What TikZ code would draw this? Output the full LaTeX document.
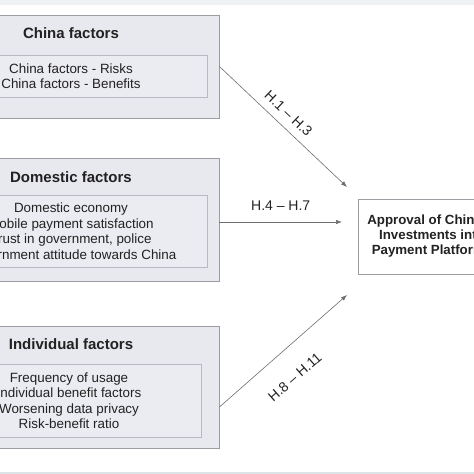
\documentclass[tikz,border=0pt]{standalone}
\usepackage{fontspec}
\setmainfont{Liberation Sans}
\usepackage{xcolor}
\usetikzlibrary{arrows.meta,positioning,calc}
\definecolor{boxgray}{HTML}{9C9CA2}
\definecolor{boxfill}{HTML}{E8E8EF}
\definecolor{itemline}{HTML}{B9B9C2}
\definecolor{itemfill}{HTML}{EBEBF2}
\definecolor{inkgray}{HTML}{222222}
\definecolor{linkgray}{HTML}{6E6E6E}
\definecolor{bandtop}{HTML}{EEF2F5}
\definecolor{bandbottom}{HTML}{DDE4E7}
\tikzset{
  groupbox/.style={
    draw=boxgray,
    fill=boxfill,
    line width=0.9pt,
    minimum width=296pt,
    inner sep=0pt
  },
  itembox/.style={
    draw=itemline,
    fill=itemfill,
    line width=0.6pt,
    align=center,
    minimum width=272pt,
    inner sep=0pt,
    text=inkgray,
    font=\fontsize{13.4pt}{15.5pt}\selectfont
  },
  grouptitle/.style={
    font=\bfseries\fontsize{15pt}{17pt}\selectfont,
    text=inkgray,
    inner sep=0pt
  },
  targetbox/.style={
    draw=boxgray,
    fill=white,
    line width=0.9pt,
    align=center,
    minimum width=148pt,
    minimum height=75pt,
    inner sep=0pt,
    text=inkgray,
    font=\bfseries\fontsize{13.3pt}{15pt}\selectfont
  },
  linkarrow/.style={-{Latex[length=6pt,width=4.5pt]}, line width=0.6pt, draw=linkgray},
  linklabel/.style={font=\fontsize{14pt}{16pt}\selectfont, text=inkgray, inner sep=0pt}
}

\begin{document}
\begin{tikzpicture}[x=1pt,y=-1pt]
\useasboundingbox (0,0) rectangle (474,474);
\clip (0,0) rectangle (474,474);
\fill[bandtop] (0,0) rectangle (474,5);
\fill[bandbottom] (0,472) rectangle (474,474);

% factor groups
\node[groupbox, minimum height=103pt] (china) at (71,66.5) {};
\node[grouptitle] (chinatitle) at (71,33) {China factors};
\node[itembox, minimum height=42pt] (chinaitems) at (71,76)
  {China factors - Risks\\China factors - Benefits};

\node[groupbox, minimum height=123pt] (domestic) at (71,219.5) {};
\node[grouptitle] (domestictitle) at (71,177) {Domestic factors};
\node[itembox, minimum height=72pt] (domesticitems) at (71,231)
  {Domestic economy\\Mobile payment satisfaction\\Trust in government, police\\Government attitude towards China};

\node[groupbox, minimum height=122pt] (individual) at (71,387) {};
\node[grouptitle] (individualtitle) at (71,344.5) {Individual factors};
\node[itembox, minimum height=73pt, minimum width=264pt] (individualitems) at (69,400.5)
  {Frequency of usage\\Individual benefit factors\\Worsening data privacy\\Risk-benefit ratio};

% outcome
\node[targetbox] (approval) at (432,236.5)
  {Approval of Chinese\\Investments into\\Payment Platforms};

\coordinate (tipchina) at (347,187);
\coordinate (tipdomestic) at (342,222);
\coordinate (tipindividual) at (347,295);

\draw[linkarrow] (china.east) -- node[linklabel, sloped, above=8pt, pos=0.47]{H.1 -- H.3} (tipchina);
\draw[linkarrow] ([yshift=-2.5pt]domestic.east) -- node[linklabel, above=11pt]{H.4 -- H.7} (tipdomestic);
\draw[linkarrow] ([yshift=-20pt]individual.east) -- node[linklabel, sloped, below=22pt, pos=0.45]{H.8 -- H.11} (tipindividual);
\end{tikzpicture}
\end{document}
